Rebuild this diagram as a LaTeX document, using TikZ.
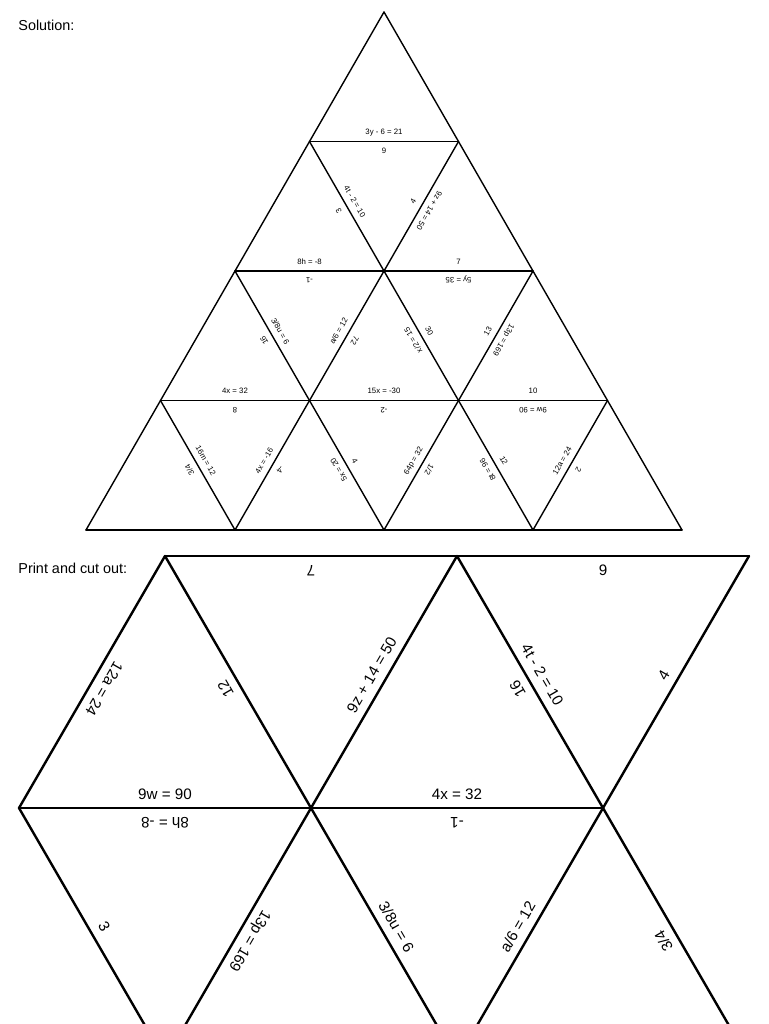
\documentclass[tikz,border=0pt]{standalone}
\usepackage{fontspec}
\setmainfont{Liberation Sans}
\usepackage{graphicx}
\newcommand{\upnine}{\raisebox{\depth}{\rotatebox{180}{9}}}

\begin{document}
\begin{tikzpicture}[x=0.5pt,y=0.5pt,every edge/.style={draw=none},
                    line cap=round,line join=round]
  \tikzstyle{sol}=[sloped,allow upside down,anchor=south,inner sep=0pt,
                   text depth=0.22em,outer sep=1.1pt,
                   font=\fontsize{3.9}{4}\selectfont]
  \tikzstyle{cut}=[sloped,allow upside down,anchor=south,inner sep=0pt,
                   text depth=0.22em,outer sep=2.3pt,
                   font=\fontsize{7.6}{8}\selectfont]
  \tikzstyle{head}=[anchor=west,inner sep=0pt,font=\fontsize{7.2}{8}\selectfont]

  \useasboundingbox (0,0) rectangle (768,-1024);
  \clip (0,0) rectangle (768,-1024);

  \node[head] (solution) at (18,-25)  {Solution:};
  \node[head] (print)    at (18,-568) {Print and cut out:};

  % solution
  \foreach \r in {0,...,4}
    \foreach \k in {0,...,\r}
      \coordinate (t\r\k) at ({384+(\k-\r/2)*149},{-12-\r*129.5});

  \begin{scope}[line width=0.7pt]
    \foreach \r in {1,...,4} \draw (t\r0) -- (t\r\r);
    \foreach \k in {0,...,3} \draw (t\k\k) -- (t4\k);
    \foreach \j [evaluate=\j as \m using int(4-\j)] in {0,...,3}
      \draw (t\j0) -- (t4\m);
  \end{scope}

  \begin{scope}[every node/.style=sol]
  \path (t10) edge node {3y - 6 = 21} (t11)
        (t11) edge node {\upnine} (t10)
        (t10) edge node {4t - 2 = 10} (t21)
        (t21) edge node {4} (t11)
        (t21) edge node {3} (t10)
        (t11) edge node {9z + 14 = 50} (t21)
        (t20) edge node {8h = -8} (t21)
        (t21) edge node {-1} (t20)
        (t21) edge node {7} (t22)
        (t22) edge node {5y = 35} (t21)
        (t20) edge node {3/8u = 6} (t31)
        (t31) edge node {a/6 = 12} (t21)
        (t31) edge node {16} (t20)
        (t21) edge node {72} (t31)
        (t21) edge node {30} (t32)
        (t32) edge node {13} (t22)
        (t32) edge node {x/2 = 15} (t21)
        (t22) edge node {13p = 169} (t32)
        (t30) edge node {4x = 32} (t31)
        (t31) edge node {8} (t30)
        (t31) edge node {15x = -30} (t32)
        (t32) edge node {-2} (t31)
        (t32) edge node {10} (t33)
        (t33) edge node {9w = 90} (t32)
        (t30) edge node {16m = 12} (t41)
        (t41) edge node {3/4} (t30)
        (t41) edge node {4x = -16} (t31)
        (t31) edge node {-4} (t41)
        (t31) edge node {4} (t42)
        (t42) edge node {5x = 20} (t31)
        (t42) edge node {64p = 32} (t32)
        (t32) edge node {1/2} (t42)
        (t32) edge node {12} (t43)
        (t43) edge node {8t = 96} (t32)
        (t43) edge node {12a = 24} (t33)
        (t33) edge node {2} (t43);
  \end{scope}

  % cut out pieces
  \coordinate (b0) at (165,-556);
  \coordinate (b1) at (457,-556);
  \coordinate (b2) at (749,-556);
  \coordinate (m0) at (19,-808);
  \coordinate (m1) at (311,-808);
  \coordinate (m2) at (603,-808);
  \coordinate (l0) at (165,-1060);
  \coordinate (l1) at (457,-1060);
  \coordinate (l2) at (749,-1060);

  \begin{scope}[line width=1.2pt]
    \draw (b0) -- (b2);
    \draw (m0) -- (m2);
    \draw (b0) -- (m0) -- (l0);
    \draw (b0) -- (l1);
    \draw (b1) -- (l0);
    \draw (b1) -- (l2);
    \draw (b2) -- (l1);
  \end{scope}

  \begin{scope}[every node/.style=cut]
  \path (b0) edge node {12a = 24} (m0)
        (m0) edge node {9w = 90} (m1)
        (m1) edge node {12} (b0)
        (b1) edge node {7} (b0)
        (m1) edge node {9z + 14 = 50} (b1)
        (m1) edge node {4x = 32} (m2)
        (m2) edge node {16} (b1)
        (b2) edge node {\upnine} (b1)
        (b1) edge node {4t - 2 = 10} (m2)
        (m2) edge node {4} (b2)
        (m1) edge node {8h = -8} (m0)
        (m0) edge node {3} (l0)
        (m1) edge node {13p = 169} (l0)
        (m2) edge node {-1} (m1)
        (m1) edge node {3/8u = 6} (l1)
        (l1) edge node {a/6 = 12} (m2)
        (l2) edge node {3/4} (m2);
  \end{scope}
\end{tikzpicture}
\end{document}
